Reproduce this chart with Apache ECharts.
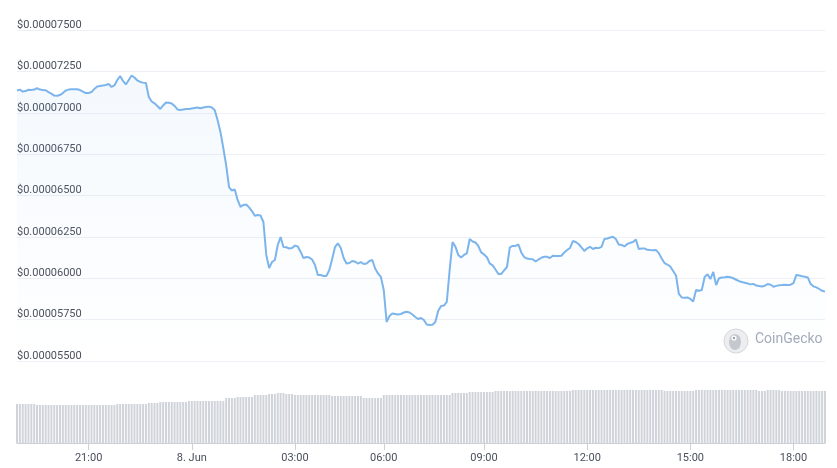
<!DOCTYPE html>
<html><head><meta charset="utf-8">
<script src="https://cdn.jsdelivr.net/npm/echarts@6/dist/echarts.min.js"></script>
<style>html,body{margin:0;padding:0;background:#ffffff}#c{width:837px;height:468px}</style>
</head><body><div id="c"></div>
<script>
// Price in units of 1e-8 USD (7134 -> $0.00007134), one value per 5-minute step
const prices = [
 7134,7140,7128,7131,7139,7137,7140,7148,7140,7137,
 7136,7125,7115,7104,7103,7107,7119,7134,7140,7142,
 7142,7142,7137,7128,7119,7119,7125,7144,7159,7162,
 7165,7168,7174,7156,7165,7198,7222,7192,7171,7198,
 7225,7213,7195,7186,7182,7180,7095,7068,7057,7041,
 7023,7044,7062,7060,7056,7041,7020,7017,7020,7023,
 7023,7026,7029,7032,7027,7032,7035,7037,7032,7017,
 6956,6884,6787,6684,6551,6530,6536,6473,6431,6443,
 6446,6428,6406,6378,6382,6379,6340,6141,6062,6098,
 6110,6201,6249,6189,6187,6180,6183,6197,6192,6159,
 6122,6128,6125,6113,6080,6020,6020,6014,6014,6050,
 6116,6189,6211,6183,6122,6089,6092,6104,6100,6089,
 6098,6086,6089,6104,6110,6059,6029,6008,5929,5736,
 5772,5787,5784,5781,5784,5793,5798,5793,5781,5766,
 5754,5760,5748,5721,5718,5719,5736,5802,5832,5835,
 5857,6050,6219,6191,6141,6125,6141,6151,6237,6222,
 6216,6195,6156,6144,6127,6090,6078,6053,6026,6026,
 6047,6068,6186,6195,6195,6204,6156,6128,6119,6116,
 6115,6101,6113,6124,6130,6130,6122,6136,6135,6135,
 6136,6156,6171,6183,6225,6219,6207,6186,6165,6181,
 6190,6177,6184,6182,6190,6237,6240,6246,6251,6237,
 6204,6201,6192,6207,6214,6219,6234,6177,6180,6180,
 6172,6170,6169,6171,6152,6119,6092,6083,6071,6044,
 6017,5905,5884,5882,5884,5875,5859,5929,5924,5929,
 6008,6024,5995,6038,5959,6000,6005,6006,6009,6006,
 6000,5991,5982,5977,5973,5968,5963,5966,5956,5953,
 5950,5955,5965,5961,5949,5954,5958,5959,5961,5959,
 5961,5971,6020,6017,6012,6009,6005,5965,5951,5945,
 5935,5924,5919
];
// Volume (relative units), one value per step
const volumes = [
 39,39,39,39,39,39,39,38,38,38,
 38,38,38,38,38,38,38,38,38,38,
 38,38,38,38,38,38,38,38,38,38,
 38,38,38,38,38,39,39,39,39,39,
 39,39,39,39,39,39,40,40,40,40,
 41,41,41,41,41,41,41,41,41,41,
 42,42,42,42,42,42,42,42,42,42,
 42,42,42,45,45,45,45,46,46,46,
 46,46,46,48,48,48,48,48,49,49,
 49,50,50,50,49,49,49,48,48,48,
 48,48,48,48,48,48,48,48,48,48,
 47,47,47,47,47,47,47,47,47,47,
 47,45,45,45,45,45,45,45,48,48,
 48,48,48,48,48,48,48,48,48,48,
 48,48,48,48,48,48,48,48,48,48,
 48,48,50,50,50,50,50,50,51,51,
 51,51,51,51,51,51,51,52,52,52,
 52,52,52,52,52,52,52,52,52,52,
 52,52,52,52,52,52,52,52,52,52,
 52,52,52,52,53,53,53,53,53,53,
 53,53,53,53,53,53,53,53,53,53,
 53,53,53,53,53,53,53,53,53,53,
 53,53,53,53,53,53,52,52,52,52,
 52,52,52,52,52,52,52,53,53,53,
 53,53,53,53,53,53,53,53,53,53,
 53,53,53,53,53,53,53,53,53,52,
 52,52,53,53,53,53,53,52,52,52,
 52,52,52,52,52,52,52,52,52,52,
 52,52,52
];
const startDay = 7, startHour = 18, startMinute = 55, stepMinutes = 5;
const missingTimes = ['8 04:05','8 04:10','8 04:15','8 04:20','8 04:25','8 07:30'];
const dayLabel = '8. Jun';
const yMin = 5500, yMax = 7500, yStep = 250;

// build category time stamps
const pad = n => (n < 10 ? '0' : '') + n;
const times = [];
let d = startDay, h = startHour, m = startMinute;
while (times.length < prices.length) {
  const key = d + ' ' + pad(h) + ':' + pad(m);
  if (missingTimes.indexOf(key) < 0) times.push(key);
  m += stepMinutes;
  if (m >= 60) { m -= 60; h += 1; }
  if (h >= 24) { h -= 24; d += 1; }
}
const isTick = (idx, val) => {
  const t = val.split(' ')[1];
  const hh = parseInt(t.slice(0, 2), 10), mm = t.slice(3);
  return mm === '00' && hh % 3 === 0;
};

const chart = echarts.init(document.getElementById('c'));
const font = 'Roboto, "Open Sans", sans-serif';
chart.setOption({
  backgroundColor: '#ffffff',
  animation: false,
  grid: [
    { left: 17, right: 12, top: 30, height: 331 },
    { left: 17, right: 12, top: 380, bottom: 25 }
  ],
  xAxis: [
    { type: 'category', gridIndex: 0, data: times, boundaryGap: false,
      axisLine: { show: false }, axisTick: { show: false }, axisLabel: { show: false }, splitLine: { show: false } },
    { type: 'category', gridIndex: 1, data: times, boundaryGap: false,
      axisLine: { show: true, lineStyle: { color: '#ccd1d9', width: 1 } },
      axisTick: { show: true, interval: isTick, length: 7, lineStyle: { color: '#ccd1d9' } },
      axisLabel: { interval: isTick, margin: 10, color: '#4a4f5c', fontSize: 11, fontFamily: font,
        formatter: v => { const t = v.split(' ')[1]; return t === '00:00' ? dayLabel : t; } },
      splitLine: { show: false } }
  ],
  yAxis: [
    { type: 'value', gridIndex: 0, min: yMin, max: yMax, interval: yStep, position: 'left',
      axisLine: { show: false }, axisTick: { show: false },
      axisLabel: { inside: true, margin: 0, verticalAlign: 'bottom', lineHeight: 10, padding: 0,
        color: '#4a4f5c', fontSize: 11, fontFamily: font,
        formatter: v => '$' + (v / 1e8).toFixed(8) },
      splitLine: { show: true, lineStyle: { color: '#edf0f5', width: 1 } } },
    { type: 'value', gridIndex: 1, min: 0, max: 63, show: false, splitLine: { show: false } }
  ],
  series: [
    { type: 'bar', xAxisIndex: 1, yAxisIndex: 1, data: volumes, barWidth: 2,
      itemStyle: { color: '#d0d4da' }, silent: true },
    { type: 'line', xAxisIndex: 0, yAxisIndex: 0, data: prices, showSymbol: false, smooth: false,
      lineStyle: { color: '#7cb5ec', width: 2 },
      areaStyle: { color: new echarts.graphic.LinearGradient(0, 0, 0, 1, [
        { offset: 0, color: 'rgba(124,181,236,0.12)' },
        { offset: 1, color: 'rgba(124,181,236,0.0)' }
      ]) } }
  ],
  graphic: [
    { type: 'circle', shape: { cx: 736, cy: 341, r: 12 }, style: { fill: '#eeeef0', stroke: '#d6d7db', lineWidth: 1 }, silent: true },
    { type: 'ellipse', shape: { cx: 735, cy: 342, rx: 6, ry: 8 }, style: { fill: '#c5c8ce' }, silent: true },
    { type: 'circle', shape: { cx: 734, cy: 338, r: 2.6 }, style: { fill: '#ffffff' }, silent: true },
    { type: 'circle', shape: { cx: 734, cy: 338, r: 1.2 }, style: { fill: '#9aa0a8' }, silent: true },
    { type: 'text', left: 755, top: 332, style: { text: 'CoinGecko', fill: '#a3abbb', font: '14px ' + font }, silent: true }
  ]
});
</script>
</body></html>
